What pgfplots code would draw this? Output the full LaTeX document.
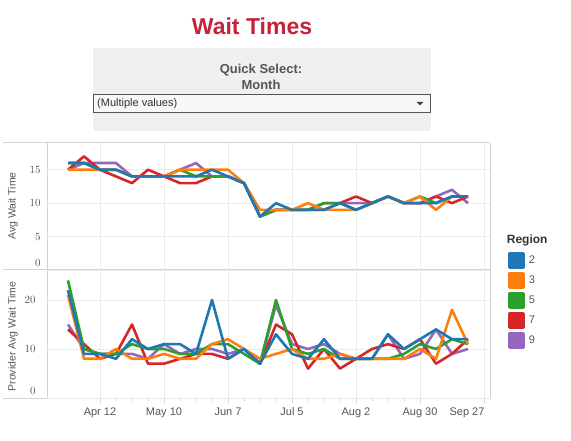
\documentclass[border=0pt]{standalone}
\usepackage{pgfplots}
\pgfplotsset{compat=1.18}
\usepackage{pgfplotstable}
\usepackage{fontspec}
\setmainfont{Liberation Sans}

\definecolor{cBlue}{HTML}{1F77B4}
\definecolor{cOrange}{HTML}{FF7F0E}
\definecolor{cGreen}{HTML}{2CA02C}
\definecolor{cRed}{HTML}{D62728}
\definecolor{cPurple}{HTML}{9467BD}
\definecolor{titlered}{HTML}{C4213A}
\definecolor{gridgray}{HTML}{EBEBEB}
\definecolor{framegray}{HTML}{D4D4D4}
\definecolor{labgray}{HTML}{555555}
\definecolor{panelgray}{HTML}{F0F0F0}

% week index 0 = Mar 29, weekly; columns = regions
\pgfplotstableread{
w  r2 r3 r5 r7 r9
0  16 15 16 15 15
1  16 15 16 17 16
2  15 15 15 15 16
3  15 15 15 14 16
4  14 14 14 13 14
5  14 14 14 15 14
6  14 14 14 14 14
7  14 15 15 13 15
8  14 15 14 13 16
9  15 15 14 14 14
10 14 15 14 14 14
11 13 13 13 13 13
12 8  9  8  8  8
13 10 9  9  9  9
14 9  9  9  9  9
15 9  10 9  9  9
16 9  9  10 10 9
17 10 9  10 10 10
18 9  9  9  11 10
19 10 10 10 10 10
20 11 11 11 11 11
21 10 10 10 10 10
22 10 11 11 10 10
23 10 9  10 11 11
24 11 11 11 10 12
25 11 11 11 11 10
}\avgwait

\pgfplotstableread{
w  r2 r3 r5 r7 r9
0  22 21 24 14 15
1  9  8  10 11 10
2  9  8  9  8  9
3  8  10 9  9  9
4  12 8  11 15 9
5  10 8  10 7  8
6  11 9  10 7  11
7  11 8  9  8  9
8  9  8  9  9  10
9  20 11 11 9  10
10 8  12 11 8  9
11 10 10 9  10 10
12 7  8  7  7  7
13 13 9  20 15 19
14 9  10 10 13 11
15 8  8  9  6  10
16 12 8  10 10 11
17 8  9  8  6  9
18 8  8  8  8  8
19 8  8  8  10 8
20 13 8  8  11 13
21 10 8  9  10 8
22 12 10 11 12 9
23 14 8  10 7  14
24 12 18 12 9  9
25 12 11 11 12 10
}\provwait

\pgfplotsset{
  panel/.style={
    scale only axis, width=442.8pt,
    xmin=-1.3, xmax=26.375,
    axis line style={draw=none},
    xtick={2,6,10,14,18,22},
    grid=major,
    major grid style={draw=gridgray, line width=0.8pt},
    ytick style={draw=none},
    yticklabel style={font=\fontsize{11}{13}\selectfont, text=labgray, xshift=-3pt},
    every axis plot/.append style={line width=2.6pt, line join=round, mark=none},
  }
}

\begin{document}
\begin{tikzpicture}[x=1pt,y=1pt]
\path[use as bounding box] (0,0) rectangle (571,441);

% title and filter box
\node[font=\fontsize{23}{27}\selectfont\bfseries, text=titlered] at (252,415) {Wait Times};
\fill[panelgray] (93,310) rectangle (431,393);
\node[font=\fontsize{13}{15}\selectfont\bfseries, text=labgray] at (261,371) {Quick Select:};
\node[font=\fontsize{13}{15}\selectfont\bfseries, text=labgray] at (261,356) {Month};
\draw[fill=white!97!black, draw=labgray, line width=1pt] (93.5,328) rectangle (430,346);
\node[anchor=west, inner sep=0pt, font=\fontsize{11}{13}\selectfont, text=black!80] at (97,337) {(Multiple values)};
\fill[black!75] (416.5,339) -- (423.5,339) -- (420,335.5) -- cycle;

% pane frame
\draw[framegray, line width=1pt] (3,298.3) -- (490,298.3);
\draw[framegray, line width=1pt] (3,171) -- (490,171);
\draw[framegray, line width=1pt] (3,42) -- (490,42);
\draw[framegray, line width=1pt] (47.7,298.3) -- (47.7,42);
\draw[framegray, line width=1pt] (490,298.3) -- (490,42);

% axis titles
\node[rotate=90, font=\fontsize{10.5}{12}\selectfont, text=labgray] at (13,235) {Avg Wait Time};
\node[rotate=90, font=\fontsize{10.5}{12}\selectfont, text=labgray] at (13,104.3) {Provider Avg Wait Time};

\begin{axis}[panel,
  at={(47.2pt,171pt)}, anchor=south west, height=127pt,
  ymin=0, ymax=19, ytick={5,10,15},
  extra y ticks={0}, extra y tick style={yticklabel style={yshift=7pt}},
  xticklabels={}, xtick style={draw=none},
  extra x ticks={26}, extra x tick labels={},
  reverse legend,
  legend cell align=left,
  legend image code/.code={\fill[#1] (0pt,-7pt) rectangle (14pt,7pt);},
  legend style={at={(1.034,0.33)}, anchor=north west, draw=none, fill=none,
    font=\fontsize{11}{13}\selectfont, text=labgray,
    nodes={inner sep=1pt, minimum height=20pt},
    /tikz/every odd column/.append style={column sep=3pt}},
]
\addplot[cPurple] table[x=w,y=r9] {\avgwait}; \addlegendentry{9}
\addplot[cRed]    table[x=w,y=r7] {\avgwait}; \addlegendentry{7}
\addplot[cGreen]  table[x=w,y=r5] {\avgwait}; \addlegendentry{5}
\addplot[cOrange] table[x=w,y=r3] {\avgwait}; \addlegendentry{3}
\addplot[cBlue]   table[x=w,y=r2] {\avgwait}; \addlegendentry{2}
\addlegendimage{empty legend}
\addlegendentry{\hspace*{-22pt}\textcolor{black!80}{\fontsize{12}{14}\selectfont\bfseries Region}}
\end{axis}

\begin{axis}[panel,
  at={(47.2pt,43pt)}, anchor=south west, height=127.4pt,
  ymin=0, ymax=26, ytick={10,20},
  extra y ticks={0}, extra y tick style={yticklabel style={yshift=7pt}},
  xticklabels={Apr 12,May 10,Jun 7,Jul 5,Aug 2,Aug 30},
  extra x ticks={26}, extra x tick labels={Sep 27},
  extra x tick style={xticklabel style={anchor=north east, xshift=4pt}},
  xticklabel style={font=\fontsize{11}{13}\selectfont, text=labgray, yshift=-1.5pt},
  minor x tick num=3,
  xtick pos=lower, tick align=outside,
  major tick length=5pt, minor tick length=3pt,
  xtick style={draw=framegray, line width=0.8pt},
]
\addplot[cPurple] table[x=w,y=r9] {\provwait};
\addplot[cRed]    table[x=w,y=r7] {\provwait};
\addplot[cGreen]  table[x=w,y=r5] {\provwait};
\addplot[cOrange] table[x=w,y=r3] {\provwait};
\addplot[cBlue]   table[x=w,y=r2] {\provwait};
\end{axis}
\end{tikzpicture}
\end{document}
